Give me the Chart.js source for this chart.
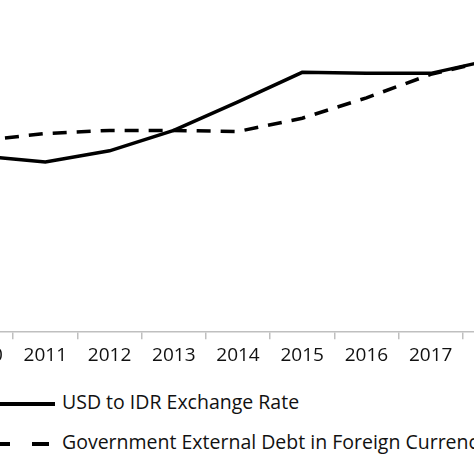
<!DOCTYPE html>
<html><head><meta charset="utf-8">
<script src="https://cdn.jsdelivr.net/npm/chart.js@4"></script>
<style>
body{margin:0;width:474px;height:474px;overflow:hidden;position:relative;background:#fff;font-family:"Open Sans",sans-serif}
#wrap{position:absolute;left:-51px;top:0;width:578px;height:372px}
.leg{position:absolute;left:0;font-size:19.5px;color:#111;white-space:nowrap}
.ln{position:absolute;left:-2px;width:57px;height:0;border-top:4px solid #000}
</style></head><body>
<div id="wrap"><canvas id="c"></canvas></div>
<div class="ln" style="top:402px"></div>
<div class="leg" style="left:62px;top:388px">USD to IDR Exchange Rate</div>
<div class="ln" style="top:442px;border-top-style:dashed;width:52px;border-image:repeating-linear-gradient(90deg,#000 0 14px,transparent 14px 33px) 4"></div>
<div class="leg" style="left:62px;top:428px">Government External Debt in Foreign Currency</div>
<script>
const years=["2010","2011","2012","2013","2014","2015","2016","2017","2018"];
const exchangeRate=[173,167,178,198,226,255,254,254,268];
const externalDebt=[188,195,198,198,197,210,230,253,268];
new Chart(document.getElementById('c'),{type:'line',
data:{labels:years,datasets:[
{label:'USD to IDR Exchange Rate',data:exchangeRate,borderColor:'#000',borderWidth:3.5,pointRadius:0,tension:0,clip:false},
{label:'Government External Debt in Foreign Currency',data:externalDebt,borderColor:'#000',borderWidth:3.5,borderDash:[14,10],pointRadius:0,tension:0,clip:false}]},
options:{responsive:true,maintainAspectRatio:false,animation:false,layout:{padding:0},
plugins:{legend:{display:false},tooltip:{enabled:false}},
scales:{x:{offset:true,grid:{offset:true,drawOnChartArea:false,tickLength:7,color:'#bfbfbf',lineWidth:1.5},border:{color:'#bfbfbf',width:1.5},
ticks:{color:'#111',font:{family:'Open Sans',size:19},padding:5,maxRotation:0,autoSkip:false}},
y:{display:false,min:0,max:326}}}});
</script></body></html>
